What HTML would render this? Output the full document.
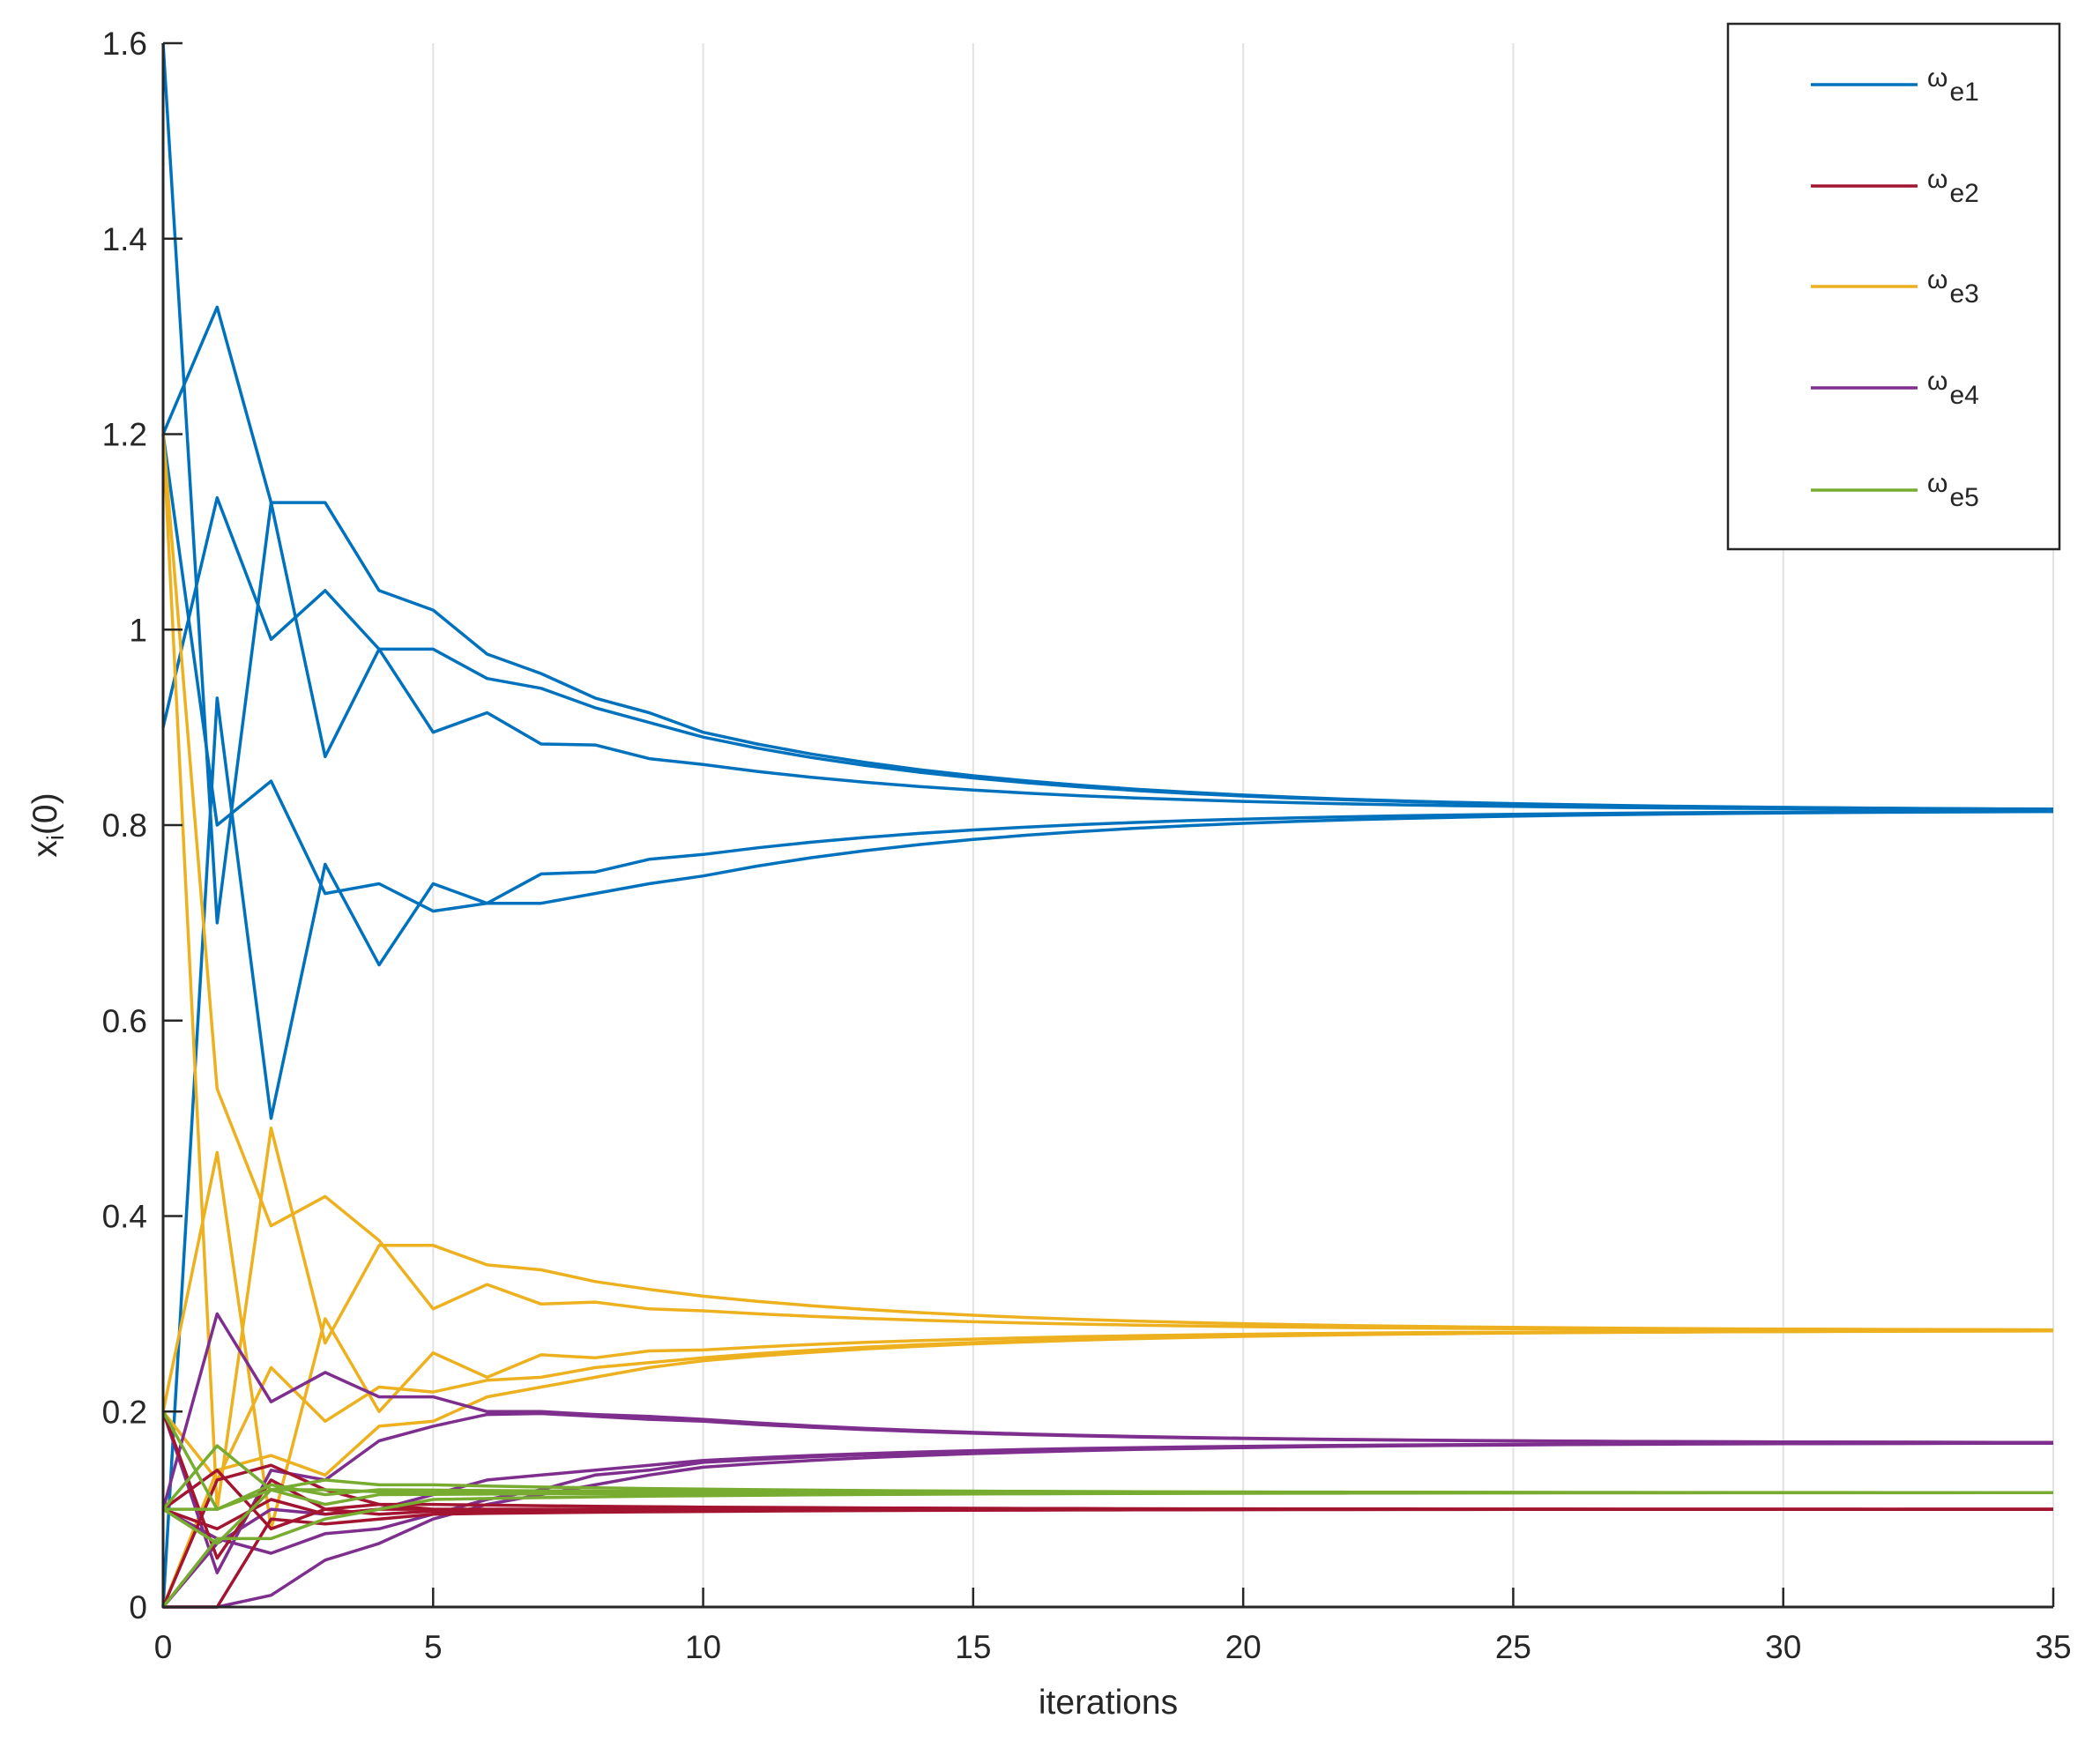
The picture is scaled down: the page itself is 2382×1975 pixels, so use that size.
<!DOCTYPE html>
<html><head><meta charset="utf-8"><style>
html,body{margin:0;padding:0;background:#fff;}
svg{display:block;}
text{font-family:"Liberation Sans",sans-serif;fill:#262626;}
</style></head><body>
<svg id="s" width="2382" height="1975" viewBox="0 0 2382 1975" xmlns="http://www.w3.org/2000/svg">
<rect width="2382" height="1975" fill="#fff"/>
<g id="grid" stroke="#e2e2e2" stroke-width="2"></g>
<g id="series" fill="none" stroke-width="3.5" stroke-linejoin="round"></g>
<g stroke="#262626" stroke-width="3" fill="none">
<line x1="185" y1="49" x2="185" y2="1824"/>
<line x1="184" y1="1823" x2="2329" y2="1823"/>
</g>
<g id="ticks" stroke="#262626" stroke-width="2.5"></g>
<g id="labels" font-size="37"></g>
<text x="1257" y="1944" font-size="39" text-anchor="middle">iterations</text>
<text transform="translate(64,936) rotate(-90)" font-size="39" text-anchor="middle">x<tspan font-size="27" dy="8">i</tspan><tspan dy="-8">(0)</tspan></text>
<rect x="1960" y="27" width="376" height="596" fill="#fff" stroke="#262626" stroke-width="2.5"/>
<g id="legend" stroke-width="3.5"></g>
</svg>
<script>
const X0=185,X1=2329,Y0=1823,Y1=49;
const sx=(X1-X0)/35, sy=(Y0-Y1)/1.6;
const px=i=>X0+i*sx, py=v=>Y0-v*sy;
const NS="http://www.w3.org/2000/svg";
function el(t,a,p,txt){const e=document.createElementNS(NS,t);for(const k in a)e.setAttribute(k,a[k]);if(txt!=null)e.textContent=txt;p.appendChild(e);return e;}
const grid=document.getElementById('grid'),ticks=document.getElementById('ticks'),labels=document.getElementById('labels');
for(let i=5;i<=35;i+=5){el('line',{x1:px(i),y1:Y1,x2:px(i),y2:Y0},grid);}
for(let i=0;i<=35;i+=5){el('line',{x1:px(i),y1:Y0,x2:px(i),y2:Y0-22},ticks);el('text',{x:px(i),y:1881,'text-anchor':'middle'},labels,String(i));}
const yl=['0','0.2','0.4','0.6','0.8','1','1.2','1.4','1.6'];
for(let k=0;k<=8;k++){const y=py(k*0.2);el('line',{x1:X0,y1:y,x2:X0+22,y2:y},ticks);el('text',{x:167,y:y+13,'text-anchor':'end'},labels,yl[k]);}
const C={b:'#0072BD',r:'#A2142F',y:'#EDB120',p:'#7E2F8E',g:'#77AC30'};
const S=[
['b',0.815,[1.6,0.70,1.13,0.87,0.98,0.98,0.95,0.94,0.92,0.905,0.89]],
['b',0.815,[1.2,1.33,1.13,1.13,1.04,1.02,0.975,0.955,0.93,0.915,0.895]],
['b',0.815,[1.2,0.80,0.845,0.73,0.74,0.712,0.72,0.75,0.752,0.765,0.77]],
['b',0.815,[0.90,1.135,0.99,1.04,0.98,0.895,0.915,0.883,0.882,0.868,0.862]],
['b',0.815,[0.0,0.93,0.50,0.76,0.657,0.74,0.72,0.72,0.73,0.74,0.748]],
['y',0.283,[1.2,0.10,0.49,0.27,0.37,0.37,0.35,0.345,0.333,0.325,0.318]],
['y',0.283,[1.2,0.53,0.39,0.42,0.375,0.305,0.33,0.31,0.312,0.305,0.303]],
['y',0.283,[0.2,0.465,0.08,0.295,0.20,0.26,0.235,0.258,0.255,0.262,0.263]],
['y',0.283,[0.2,0.13,0.245,0.19,0.225,0.22,0.232,0.235,0.245,0.25,0.255]],
['y',0.283,[0.0,0.14,0.155,0.135,0.185,0.19,0.215,0.225,0.235,0.245,0.252]],
['p',0.168,[0.1,0.30,0.21,0.24,0.215,0.215,0.20,0.20,0.197,0.195,0.192]],
['p',0.168,[0.2,0.035,0.14,0.13,0.17,0.185,0.197,0.198,0.195,0.192,0.19]],
['p',0.168,[0.0,0.0,0.012,0.048,0.065,0.09,0.105,0.115,0.125,0.135,0.143]],
['p',0.168,[0.1,0.07,0.055,0.075,0.08,0.095,0.11,0.12,0.135,0.14,0.148]],
['p',0.168,[0.0,0.065,0.10,0.095,0.10,0.115,0.13,0.135,0.14,0.145,0.15]],
['r',0.1,[0.2,0.05,0.13,0.10,0.105,0.10,0.10]],
['r',0.1,[0.0,0.13,0.145,0.12,0.105,0.105]],
['r',0.1,[0.1,0.14,0.08,0.10,0.095,0.098]],
['r',0.1,[0.0,0.0,0.09,0.085,0.09,0.095]],
['r',0.1,[0.1,0.08,0.11,0.095,0.1]],
['g',0.117,[0.2,0.10,0.12,0.13,0.125,0.125]],
['g',0.117,[0.1,0.10,0.125,0.115,0.12]],
['g',0.117,[0.1,0.165,0.12,0.105,0.115]],
['g',0.117,[0.0,0.07,0.07,0.09,0.10,0.11]],
['g',0.117,[0.1,0.065,0.12,0.12,0.118]],
];
const sg=document.getElementById('series');
for(const [c,t,d] of S){const v=d.slice();const n=v.length-1;const last=v[n];
for(let k=n+1;k<=35;k++)v.push(t+(last-t)*Math.pow(0.85,k-n));
el('polyline',{points:v.map((a,i)=>px(i).toFixed(1)+','+py(a).toFixed(1)).join(' '),stroke:C[c]},sg);}
const lg=document.getElementById('legend');const ly=[96,211,325,440,556];const lc=['b','r','y','p','g'];
lc.forEach((c,i)=>{el('line',{x1:2054,y1:ly[i],x2:2175,y2:ly[i],stroke:C[c]},lg);
const t=el('text',{x:2186,y:ly[i]+2,'font-size':'30','stroke':'none'},lg,'ω');
el('tspan',{dy:'16','dx':'2','font-size':'30'},t,'e'+(i+1));});
</script>
</body></html>
